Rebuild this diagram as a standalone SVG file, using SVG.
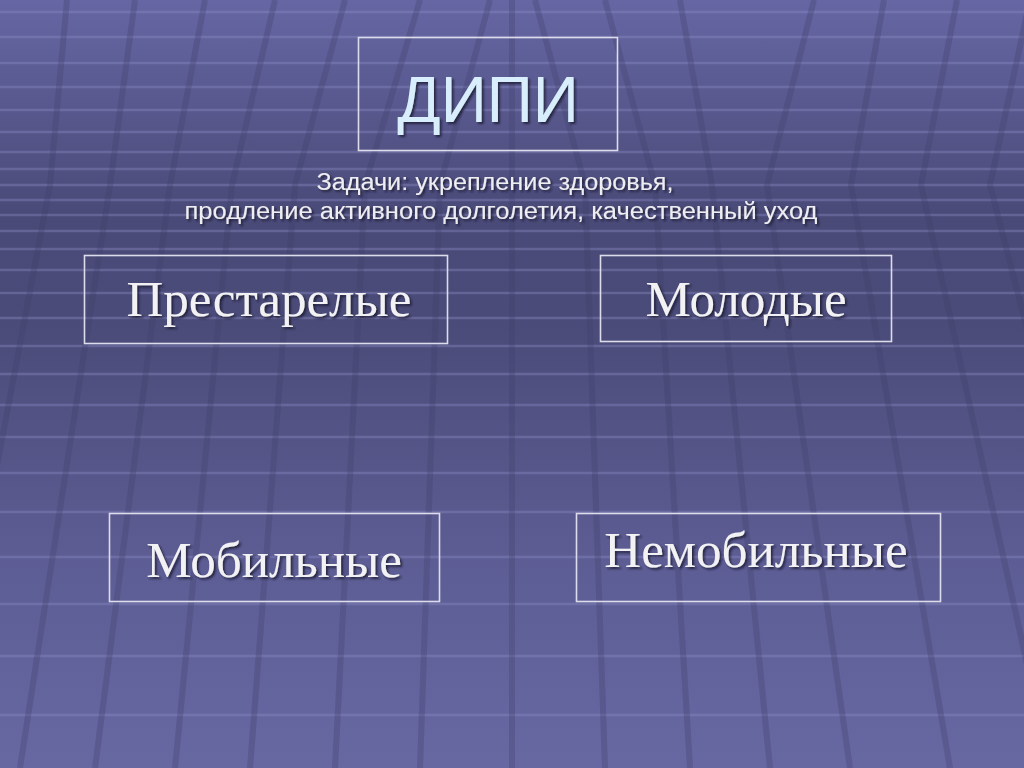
<svg xmlns="http://www.w3.org/2000/svg" width="1024" height="768" viewBox="0 0 1024 768">
<defs>
<linearGradient id="bg" x1="0" y1="0" x2="0" y2="1">
<stop offset="0" stop-color="#6666a4"/>
<stop offset="0.28" stop-color="#4a4a78"/>
<stop offset="0.42" stop-color="#4b4b79"/>
<stop offset="0.75" stop-color="#5e5e96"/>
<stop offset="1" stop-color="#6767a2"/>
</linearGradient>
<filter id="sh" x="-10%" y="-10%" width="120%" height="130%">
<feDropShadow dx="2" dy="2" stdDeviation="0.8" flood-color="#1a1a30" flood-opacity="0.8"/>
</filter>
</defs>
<style>
.h{stroke:#8a8ac4;stroke-width:2.5;opacity:0.4}
.v{stroke:#3e3e6a;stroke-width:6;opacity:0.3;fill:none}
.box{fill:none;stroke:#dcdcec;stroke-width:1.6}
.serif{font-family:"Liberation Serif","Times New Roman",serif;font-size:51px;fill:#f2f2f4;text-anchor:middle}
.sub{font-family:"Liberation Sans",Arial,sans-serif;font-size:23px;fill:#eeeef2;text-anchor:middle}
</style>
<rect width="1024" height="768" fill="url(#bg)"/>
<g id="background-grid">
<g>
<line class="h" x1="0" y1="12" x2="1024" y2="12"/>
<line class="h" x1="0" y1="37" x2="1024" y2="37"/>
<line class="h" x1="0" y1="63" x2="1024" y2="63"/>
<line class="h" x1="0" y1="87" x2="1024" y2="87"/>
<line class="h" x1="0" y1="110" x2="1024" y2="110"/>
<line class="h" x1="0" y1="132" x2="1024" y2="132"/>
<line class="h" x1="0" y1="152" x2="1024" y2="152"/>
<line class="h" x1="0" y1="169" x2="1024" y2="169"/>
<line class="h" x1="0" y1="185" x2="1024" y2="185"/>
<line class="h" x1="0" y1="200" x2="1024" y2="200"/>
<line class="h" x1="0" y1="215" x2="1024" y2="215"/>
<line class="h" x1="0" y1="231" x2="1024" y2="231"/>
<line class="h" x1="0" y1="249" x2="1024" y2="249"/>
<line class="h" x1="0" y1="270" x2="1024" y2="270"/>
<line class="h" x1="0" y1="293" x2="1024" y2="293"/>
<line class="h" x1="0" y1="318" x2="1024" y2="318"/>
<line class="h" x1="0" y1="346" x2="1024" y2="346"/>
<line class="h" x1="0" y1="374" x2="1024" y2="374"/>
<line class="h" x1="0" y1="405" x2="1024" y2="405"/>
<line class="h" x1="0" y1="437" x2="1024" y2="437"/>
<line class="h" x1="0" y1="473" x2="1024" y2="473"/>
<line class="h" x1="0" y1="512" x2="1024" y2="512"/>
<line class="h" x1="0" y1="557" x2="1024" y2="557"/>
<line class="h" x1="0" y1="604" x2="1024" y2="604"/>
<line class="h" x1="0" y1="656" x2="1024" y2="656"/>
<line class="h" x1="0" y1="715" x2="1024" y2="715"/>
</g>
<g>
<polyline class="v" points="67,0 50,185 -60,768"/>
<polyline class="v" points="135,0 110,185 20,768"/>
<polyline class="v" points="205,0 170,185 95,768"/>
<polyline class="v" points="275,0 232,185 175,768"/>
<polyline class="v" points="345,0 295,185 250,768"/>
<polyline class="v" points="420,0 365,185 335,768"/>
<polyline class="v" points="490,0 440,185 420,768"/>
<polyline class="v" points="512,0 512,768"/>
<polyline class="v" points="535,0 585,185 605,768"/>
<polyline class="v" points="605,0 655,185 690,768"/>
<polyline class="v" points="680,0 712,185 770,768"/>
<polyline class="v" points="814,0 767,185 850,768"/>
<polyline class="v" points="884,0 851,185 950,768"/>
<polyline class="v" points="957,0 921,185 1050,768"/>
<polyline class="v" points="1030,0 990,185 1140,768"/>
</g>
</g>
<g id="node-dipi">
<rect class="box" x="358.5" y="37.5" width="259" height="113"/>
<text x="488" y="122" font-family="Liberation Sans,Arial,sans-serif" font-size="64" fill="#d8eefc" text-anchor="middle" filter="url(#sh)">ДИПИ</text>
</g>
<g id="subtitle" filter="url(#sh)">
<text class="sub" x="495" y="190" textLength="357" lengthAdjust="spacingAndGlyphs">Задачи: укрепление здоровья,</text>
<text class="sub" x="501" y="219" textLength="633" lengthAdjust="spacingAndGlyphs">продление активного долголетия, качественный уход</text>
</g>
<g id="node-prestarelye">
<rect class="box" x="84.5" y="255.5" width="363" height="88"/>
<text class="serif" x="269" y="316" filter="url(#sh)">Престарелые</text>
</g>
<g id="node-molodye">
<rect class="box" x="600.5" y="255.5" width="291" height="86"/>
<text class="serif" x="746" y="316" filter="url(#sh)">Молодые</text>
</g>
<g id="node-mobilnye">
<rect class="box" x="109.5" y="513.5" width="330" height="88"/>
<text class="serif" x="274" y="577" filter="url(#sh)">Мобильные</text>
</g>
<g id="node-nemobilnye">
<rect class="box" x="576.5" y="513.5" width="364" height="88"/>
<text class="serif" x="756" y="567" filter="url(#sh)">Немобильные</text>
</g>
<g id="connectors"/>
</svg>
